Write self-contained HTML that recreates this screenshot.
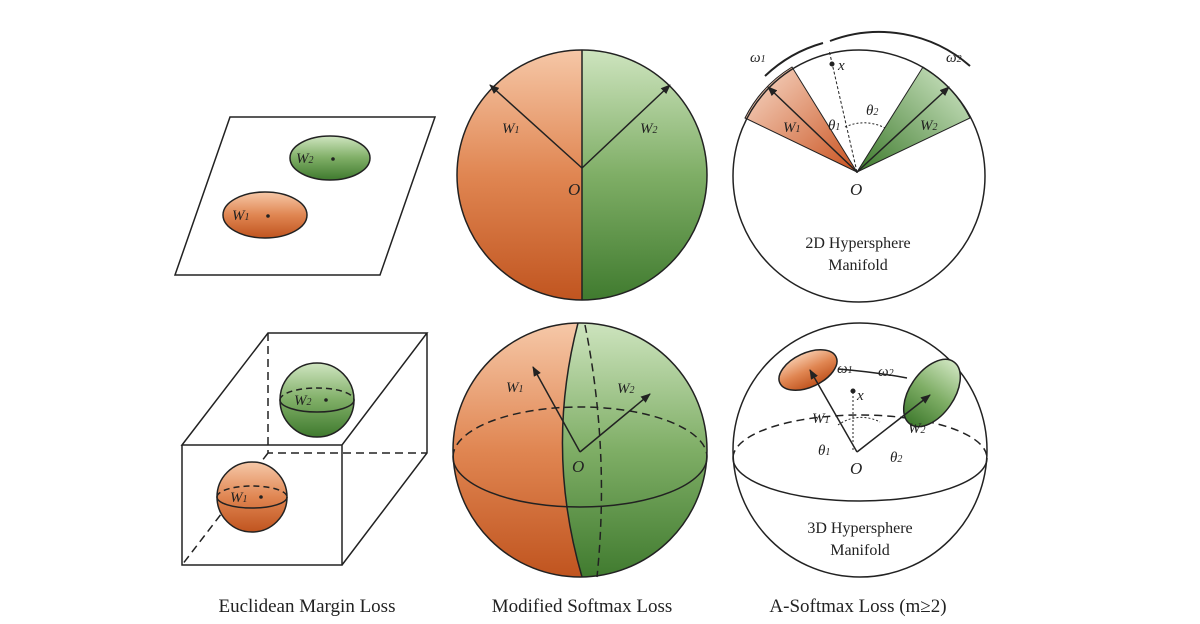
<!DOCTYPE html>
<html><head><style>
html,body{margin:0;padding:0;background:#fff}
svg{display:block}
text{font-family:"Liberation Serif",serif;fill:#222}
.i{font-style:italic}
</style></head><body>
<svg width="1200" height="624" viewBox="0 0 1200 624" xmlns="http://www.w3.org/2000/svg">
<defs>
<linearGradient id="og" x1="0" y1="0" x2="0" y2="1"><stop offset="0" stop-color="#f6c8a8"/><stop offset="0.5" stop-color="#e08652"/><stop offset="1" stop-color="#c0541f"/></linearGradient>
<linearGradient id="gg" x1="0" y1="0" x2="0" y2="1"><stop offset="0" stop-color="#cfe5c0"/><stop offset="0.5" stop-color="#7fae66"/><stop offset="1" stop-color="#3f7a2e"/></linearGradient>
<linearGradient id="os" x1="0" y1="0" x2="1" y2="1"><stop offset="0" stop-color="#f8dccb"/><stop offset="1" stop-color="#c9521f"/></linearGradient>
<linearGradient id="gs" x1="1" y1="0" x2="0" y2="1"><stop offset="0" stop-color="#d6ebcc"/><stop offset="1" stop-color="#3d7a2c"/></linearGradient>
<marker id="ar" markerWidth="10" markerHeight="8" refX="9" refY="4" orient="auto" markerUnits="userSpaceOnUse"><path d="M0,0 L10,4 L0,8 Z" fill="#222"/></marker>
<clipPath id="c0"><circle cx="582" cy="175" r="125"/></clipPath>
<clipPath id="c1"><circle cx="580" cy="450" r="127"/></clipPath>
</defs>
<g stroke="#222" stroke-width="1.5" fill="none">
<polygon points="230,117 435,117 380,275 175,275" fill="#fff"/>
<ellipse cx="330" cy="158" rx="40" ry="22" fill="url(#gg)"/>
<ellipse cx="265" cy="215" rx="42" ry="23" fill="url(#og)"/>
<g clip-path="url(#c0)">
<rect x="450" y="48" width="132" height="254" fill="url(#og)" stroke="none"/>
<rect x="582" y="48" width="132" height="254" fill="url(#gg)" stroke="none"/>
</g>
<circle cx="582" cy="175" r="125"/>
<line x1="582" y1="50" x2="582" y2="300"/>
<line x1="582" y1="168" x2="490" y2="85" marker-end="url(#ar)"/>
<line x1="582" y1="168" x2="670" y2="85" marker-end="url(#ar)"/>
<path d="M857,172 L745,118 A126,126 0 0 1 792,67 Z" fill="url(#os)" stroke-width="1"/>
<path d="M857,172 L923,67 A126,126 0 0 1 970,118 Z" fill="url(#gs)" stroke-width="1"/>
<circle cx="859" cy="176" r="126"/>
<line x1="857" y1="172" x2="768" y2="87" marker-end="url(#ar)"/>
<line x1="857" y1="172" x2="949" y2="87" marker-end="url(#ar)"/>
<line x1="857" y1="172" x2="829" y2="50" stroke-dasharray="3,2" stroke-width="1"/>
<path d="M845,127 A45,45 0 0 1 885,128" stroke-dasharray="2,2" stroke-width="1"/>
<path d="M765,76 A138,138 0 0 1 823,43" stroke-width="2"/>
<path d="M830,41 A138,138 0 0 1 970,66" stroke-width="2"/>
<circle cx="832" cy="64" r="1.8" fill="#222"/>
<path d="M182,445 L268,333 L427,333 L342,445 Z M182,445 L182,565 L342,565 L342,445 M342,565 L427,453 L427,333" />
<path d="M268,333 L268,453 L427,453 M268,453 L182,565" stroke-dasharray="8,5"/>
<circle cx="317" cy="400" r="37" fill="url(#gg)"/>
<path d="M280,400 A37,12 0 0 0 354,400" />
<path d="M280,400 A37,12 0 0 1 354,400" stroke-dasharray="6,4"/>
<circle cx="252" cy="497" r="35" fill="url(#og)"/>
<path d="M217,497 A35,11 0 0 0 287,497"/>
<path d="M217,497 A35,11 0 0 1 287,497" stroke-dasharray="6,4"/>
<g clip-path="url(#c1)">
<rect x="450" y="320" width="260" height="260" fill="url(#gg)" stroke="none"/>
<path d="M578,323 Q545,450 582,577 L440,577 L440,323 Z" fill="url(#og)" stroke="none"/>
</g>
<circle cx="580" cy="450" r="127"/>
<path d="M578,323 Q545,450 582,577"/>
<path d="M585,325 Q610,450 597,577" stroke-dasharray="8,5"/>
<path d="M453,457 A127,50 0 0 0 707,457"/>
<path d="M453,457 A127,50 0 0 1 707,457" stroke-dasharray="8,5"/>
<line x1="580" y1="452" x2="533" y2="367" marker-end="url(#ar)"/>
<line x1="580" y1="452" x2="650" y2="394" marker-end="url(#ar)"/>
<circle cx="860" cy="450" r="127"/>
<path d="M733,458 A127,43 0 0 0 987,458"/>
<path d="M733,458 A127,43 0 0 1 987,458" stroke-dasharray="8,5"/>
<ellipse cx="808" cy="370" rx="31" ry="17" transform="rotate(-25 808 370)" fill="url(#og)"/>
<ellipse cx="932" cy="393" rx="22" ry="38" transform="rotate(35 932 393)" fill="url(#gg)"/>
<path d="M838,369 Q875,372 907,378" stroke-width="1.5"/>
<line x1="857" y1="452" x2="810" y2="370" marker-end="url(#ar)"/>
<line x1="857" y1="452" x2="930" y2="395" marker-end="url(#ar)"/>
<line x1="853" y1="392" x2="853" y2="452" stroke-dasharray="2,2" stroke-width="1"/>
<path d="M838,425 A40,40 0 0 1 880,422" stroke-dasharray="2,2" stroke-width="1"/>
<circle cx="853" cy="391" r="1.8" fill="#222"/>
</g>
<g font-size="15">
<text x="296" y="163" class="i">W<tspan font-size="10">2</tspan></text><circle cx="333" cy="159" r="1.8" fill="#222"/>
<text x="232" y="220" class="i">W<tspan font-size="10">1</tspan></text><circle cx="268" cy="216" r="1.8" fill="#222"/>
<text x="502" y="133" class="i">W<tspan font-size="10">1</tspan></text>
<text x="640" y="133" class="i">W<tspan font-size="10">2</tspan></text>
<text x="568" y="195" class="i" font-size="17">O</text>
<text x="783" y="132" class="i">W<tspan font-size="10">1</tspan></text>
<text x="920" y="130" class="i">W<tspan font-size="10">2</tspan></text>
<text x="828" y="130" class="i">θ<tspan font-size="10">1</tspan></text>
<text x="866" y="115" class="i">θ<tspan font-size="10">2</tspan></text>
<text x="850" y="195" class="i" font-size="17">O</text>
<text x="838" y="70" class="i">x</text>
<text x="750" y="62" class="i">ω<tspan font-size="10">1</tspan></text>
<text x="946" y="62" class="i">ω<tspan font-size="10">2</tspan></text>
<text x="858" y="248" text-anchor="middle" font-size="16">2D Hypersphere</text>
<text x="858" y="270" text-anchor="middle" font-size="16">Manifold</text>
<text x="294" y="405" class="i">W<tspan font-size="10">2</tspan></text><circle cx="326" cy="400" r="1.8" fill="#222"/>
<text x="230" y="502" class="i">W<tspan font-size="10">1</tspan></text><circle cx="261" cy="497" r="1.8" fill="#222"/>
<text x="506" y="392" class="i">W<tspan font-size="10">1</tspan></text>
<text x="617" y="393" class="i">W<tspan font-size="10">2</tspan></text>
<text x="572" y="472" class="i" font-size="17">O</text>
<text x="837" y="373" class="i">ω<tspan font-size="10">1</tspan></text>
<text x="878" y="376" class="i">ω<tspan font-size="10">2</tspan></text>
<text x="857" y="400" class="i">x</text>
<text x="812" y="423" class="i">W<tspan font-size="10">1</tspan></text>
<text x="908" y="433" class="i">W<tspan font-size="10">2</tspan></text>
<text x="818" y="455" class="i">θ<tspan font-size="10">1</tspan></text>
<text x="890" y="462" class="i">θ<tspan font-size="10">2</tspan></text>
<text x="850" y="474" class="i" font-size="17">O</text>
<text x="860" y="533" text-anchor="middle" font-size="16">3D Hypersphere</text>
<text x="860" y="555" text-anchor="middle" font-size="16">Manifold</text>
</g>
<g font-size="19">
<text x="307" y="612" text-anchor="middle">Euclidean Margin Loss</text>
<text x="582" y="612" text-anchor="middle">Modified Softmax Loss</text>
<text x="858" y="612" text-anchor="middle">A-Softmax Loss (m≥2)</text>
</g>
</svg>
</body></html>
